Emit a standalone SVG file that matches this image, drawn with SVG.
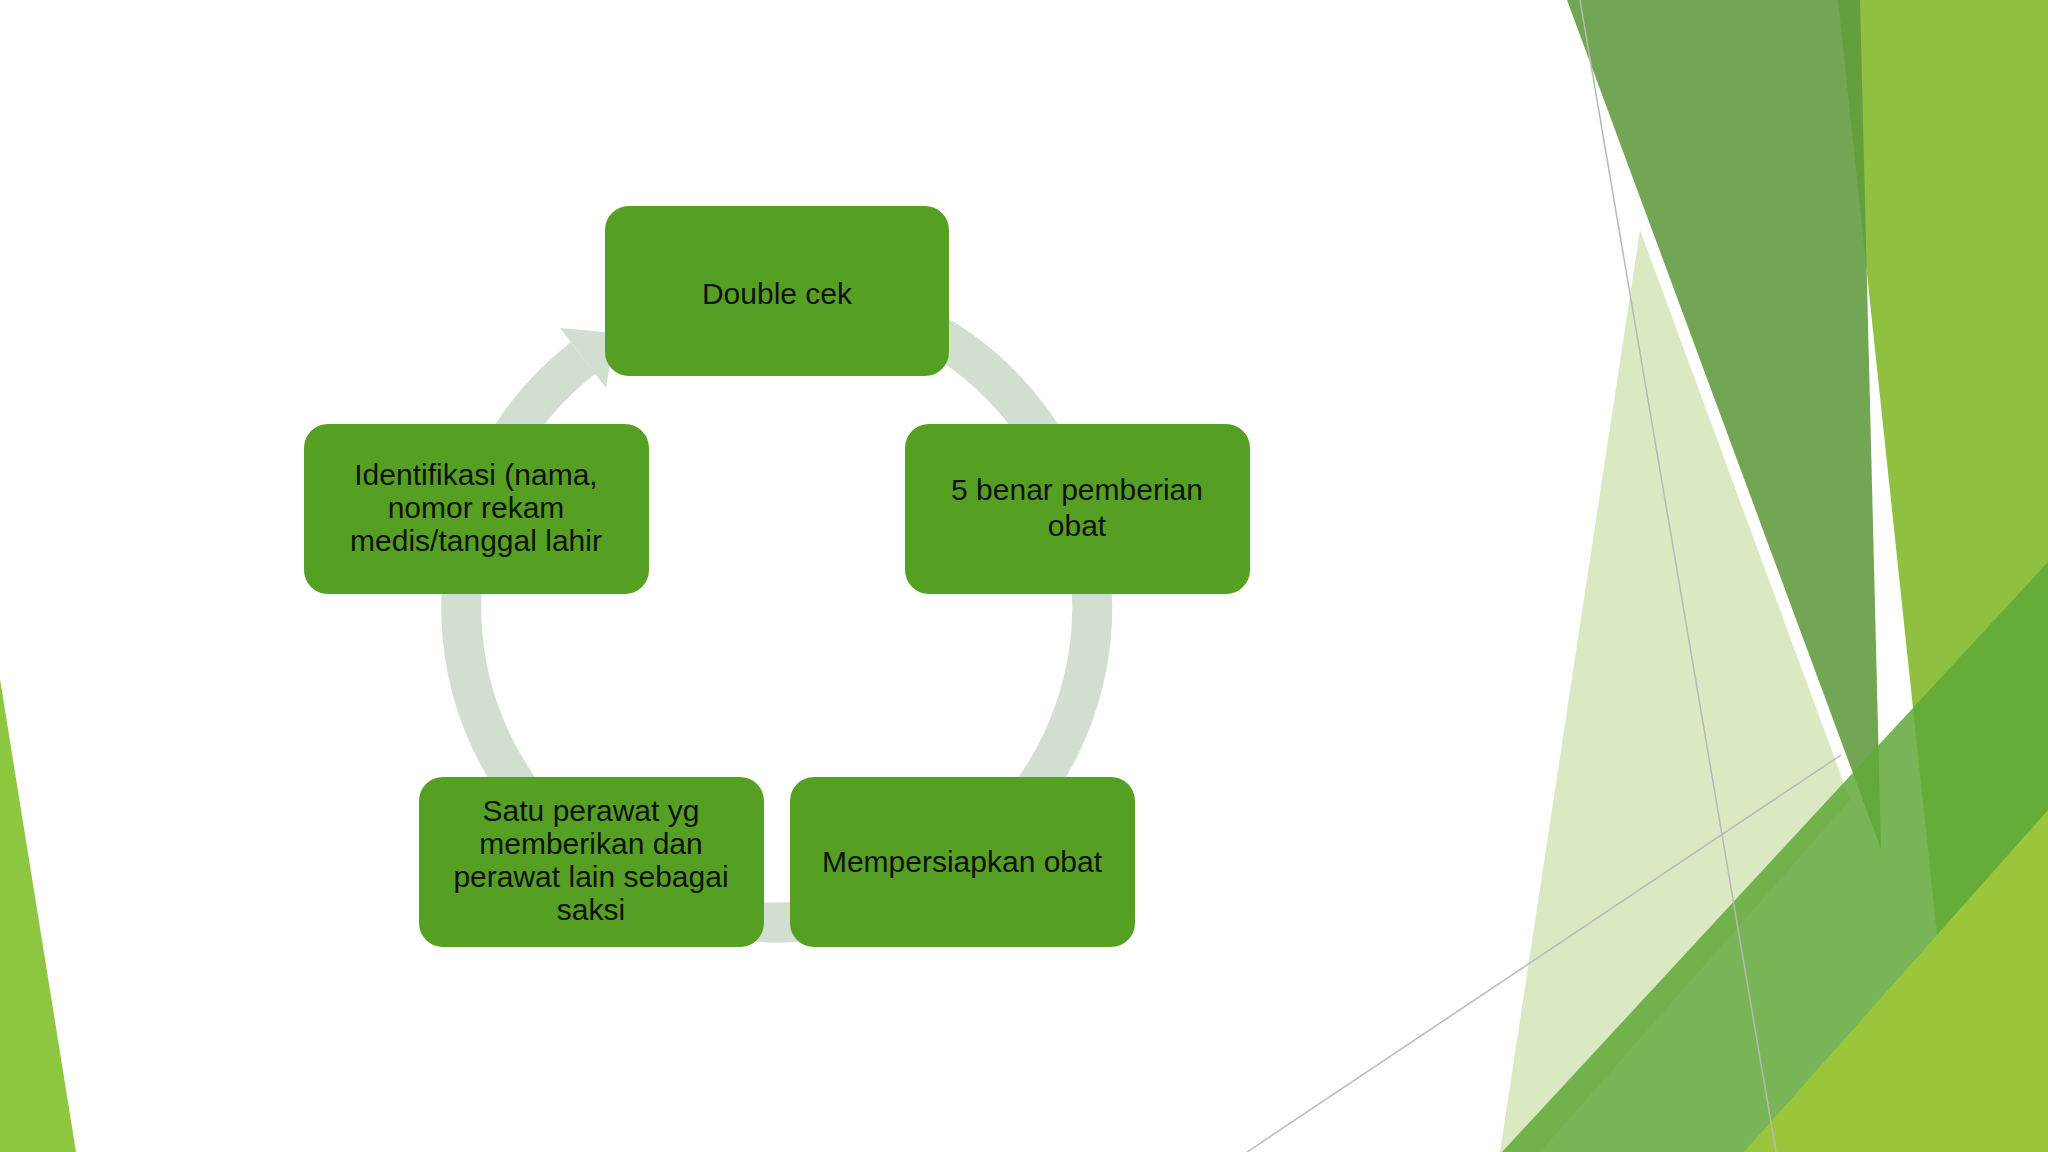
<svg xmlns="http://www.w3.org/2000/svg" width="2048" height="1152" viewBox="0 0 2048 1152">
<style>
.box{fill:#55a022}
.t{font-family:"Liberation Sans",Arial,sans-serif;font-size:30px;fill:#111;text-anchor:middle}
.ln{stroke:#b8b8b8;stroke-width:1.5;fill:none}
</style>
<rect width="2048" height="1152" fill="#fff"/>
<g id="background">
<polygon points="1640,230 1850,800 1540,1152 1500,1152" fill="#dbe9c2"/>
<polygon points="1838,0 2000,0 2048,0 2048,1152 1960,1152" fill="#8fc040"/>
<polygon points="1567,0 1860,0 1881,849" fill="#5f9a3c" opacity="0.88"/>
<polygon points="1502,1152 2048,562 2048,1152" fill="#5fa838" opacity="0.85"/>
<polygon points="1744,1152 2048,810 2048,1152" fill="#9bc53a"/>
<polygon points="0,679 76,1152 0,1152" fill="#8dc63f"/>
<line class="ln" x1="1580" y1="0" x2="1776" y2="1152"/>
<line class="ln" x1="1247" y1="1152" x2="1841" y2="755"/>
</g>
<g id="connectors">
<path d="M777,291.5 A315.5,315.5 0 1 1 583,358" fill="none" stroke="#d2dfd0" stroke-width="40"/>
<polygon points="615,333 560,328 606,388" fill="#d2dfd0"/>
</g>
<g id="n1"><rect class="box" x="605" y="206" width="344" height="170" rx="24"/><text class="t" x="777" y="304" font-size="42">Double cek</text></g>
<g id="n2"><rect class="box" x="905" y="424" width="345" height="170" rx="24"/><text class="t" x="1077" y="500">5 benar pemberian</text><text class="t" x="1077" y="536">obat</text></g>
<g id="n3"><rect class="box" x="790" y="777" width="345" height="170" rx="24"/><text class="t" x="962" y="872">Mempersiapkan obat</text></g>
<g id="n4"><rect class="box" x="419" y="777" width="345" height="170" rx="24"/><text class="t" x="591" y="821">Satu perawat yg</text><text class="t" x="591" y="854">memberikan dan</text><text class="t" x="591" y="887">perawat lain sebagai</text><text class="t" x="591" y="920">saksi</text></g>
<g id="n5"><rect class="box" x="304" y="424" width="345" height="170" rx="24"/><text class="t" x="476" y="485">Identifikasi (nama,</text><text class="t" x="476" y="518">nomor rekam</text><text class="t" x="476" y="551">medis/tanggal lahir</text></g>
</svg>
